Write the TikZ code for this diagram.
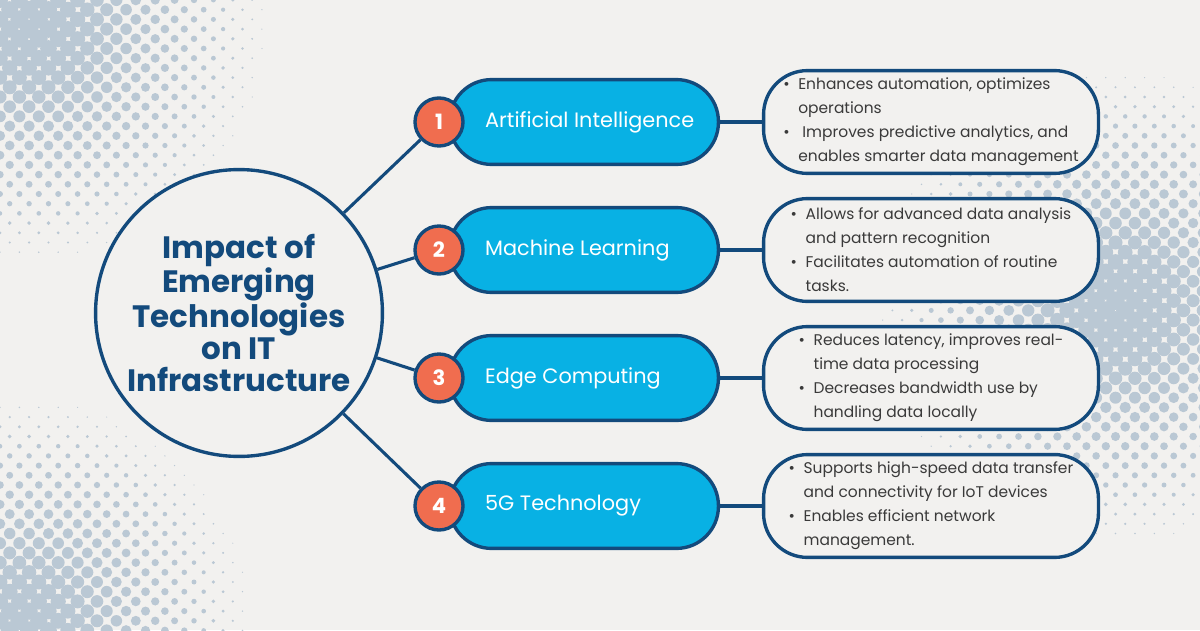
\documentclass[tikz,border=0pt]{standalone}
\usepackage{fontspec}
\setmainfont{Poppins}
\usetikzlibrary{positioning}

\definecolor{bgcol}{HTML}{F2F1EF}
\definecolor{dotcol}{HTML}{BAC8D4}
\definecolor{navy}{HTML}{134A7C}
\definecolor{skyblue}{HTML}{08B1E4}
\definecolor{coral}{HTML}{F06D4F}
\definecolor{inkgray}{HTML}{3A3A3A}

% bullet and hanging indent for the detail boxes
\newcommand\bitem{\makebox[10.6pt][l]{\textbullet}}
\newcommand\bskip{\hspace*{10.6pt}}

% halftone dots: cx, cy, R, imin, imax, jmin, jmax (pixel units)
\newcommand\halftone[7]{%
  \foreach \j in {#6,...,#7}{
    \foreach \i in {#4,...,#5}{
      \pgfmathsetmacro\hx{\i*19.4+mod(\j,2)*9.7}
      \pgfmathsetmacro\hy{\j*9.7}
      \pgfmathsetmacro\hr{9.5*(1-veclen(\hx-#1,\hy-#2)/#3)*0.7087}
      \ifdim\hr pt>0.4pt \fill[dotcol] (\hx,\hy) circle[radius=\hr pt];\fi
    }
  }
}

\begin{document}
\begin{tikzpicture}[x=0.025cm, y=-0.025cm,
    hubnode/.style={circle, draw=navy, line width=2.4pt, fill=bgcol, minimum size=6.85cm,
      align=center, text=navy, font=\fontsize{22}{23}\selectfont\bfseries},
    pill/.style={rectangle, rounded corners=1.05cm, draw=navy, line width=2.4pt, fill=skyblue,
      minimum width=6.72cm, minimum height=2.12cm},
    pilltext/.style={inner sep=0pt, text=white, font=\fontsize{14.8}{18}\selectfont},
    badge/.style={circle, draw=navy, line width=2.4pt, fill=coral, minimum size=1.2cm,
      inner sep=0pt, text=white, font=\fontsize{15}{18}\selectfont\bfseries},
    detail/.style={rectangle, rounded corners=1.1cm, draw=navy, line width=2.4pt, fill=bgcol,
      minimum width=8.37cm, minimum height=2.57cm, align=left, text=inkgray,
      font=\fontsize{11}{17}\selectfont},
    link/.style={draw=navy, line width=2.2pt}]
    \useasboundingbox (0,0) rectangle (1200,630);
    \fill[bgcol] (0,0) rectangle (1200,630);

    % background dots
    \begin{scope}
        \clip (0,0) rectangle (1200,630);
        \halftone{30}{25}{250}{0}{14}{0}{29}
        \halftone{20}{630}{245}{0}{14}{39}{65}
        \halftone{1115}{307}{250}{44}{62}{5}{58}
    \end{scope}

    % centre
    \node[hubnode] (hub) at (239,313) {Impact of\\Emerging\\Technologies\\on IT\\Infrastructure};

    % technologies
    \node[pill] (p1) at (584,122) {};
    \node[pill] (p2) at (584,250) {};
    \node[pill] (p3) at (584,378) {};
    \node[pill] (p4) at (584,506) {};
    \node[pilltext, right=0.925cm of p1.west] (t1) {Artificial Intelligence};
    \node[pilltext, right=0.925cm of p2.west] (t2) {Machine Learning};
    \node[pilltext, right=0.925cm of p3.west] (t3) {Edge Computing};
    \node[pilltext, right=0.925cm of p4.west] (t4) {5G Technology};
    \node[badge] (n1) at (439,122) {1};
    \node[badge] (n2) at (439,250) {2};
    \node[badge] (n3) at (439,378) {3};
    \node[badge] (n4) at (439,506) {4};

    % details
    \node[detail] (d1) at (931,122) {\bitem Enhances automation, optimizes\\ \bskip operations\\
        \bitem\ Improves predictive analytics, and\\ \bskip enables smarter data management};
    \node[detail] (d2) at (931,250) {\bitem Allows for advanced data analysis\\ \bskip and pattern recognition\\
        \bitem Facilitates automation of routine\\ \bskip tasks.};
    \node[detail] (d3) at (931,378) {\bitem Reduces latency, improves real-\\ \bskip time data processing\\
        \bitem Decreases bandwidth use by\\ \bskip handling data locally};
    \node[detail] (d4) at (931,506) {\bitem Supports high-speed data transfer\\ \bskip and connectivity for IoT devices\\
        \bitem Enables efficient network\\ \bskip management.};

    % connectors
    \draw[link] (hub) -- (n1);
    \draw[link] (hub) -- (n2);
    \draw[link] (hub) -- (n3);
    \draw[link] (hub) -- (n4);
    \draw[link] (p1) -- (d1);
    \draw[link] (p2) -- (d2);
    \draw[link] (p3) -- (d3);
    \draw[link] (p4) -- (d4);
\end{tikzpicture}
\end{document}
